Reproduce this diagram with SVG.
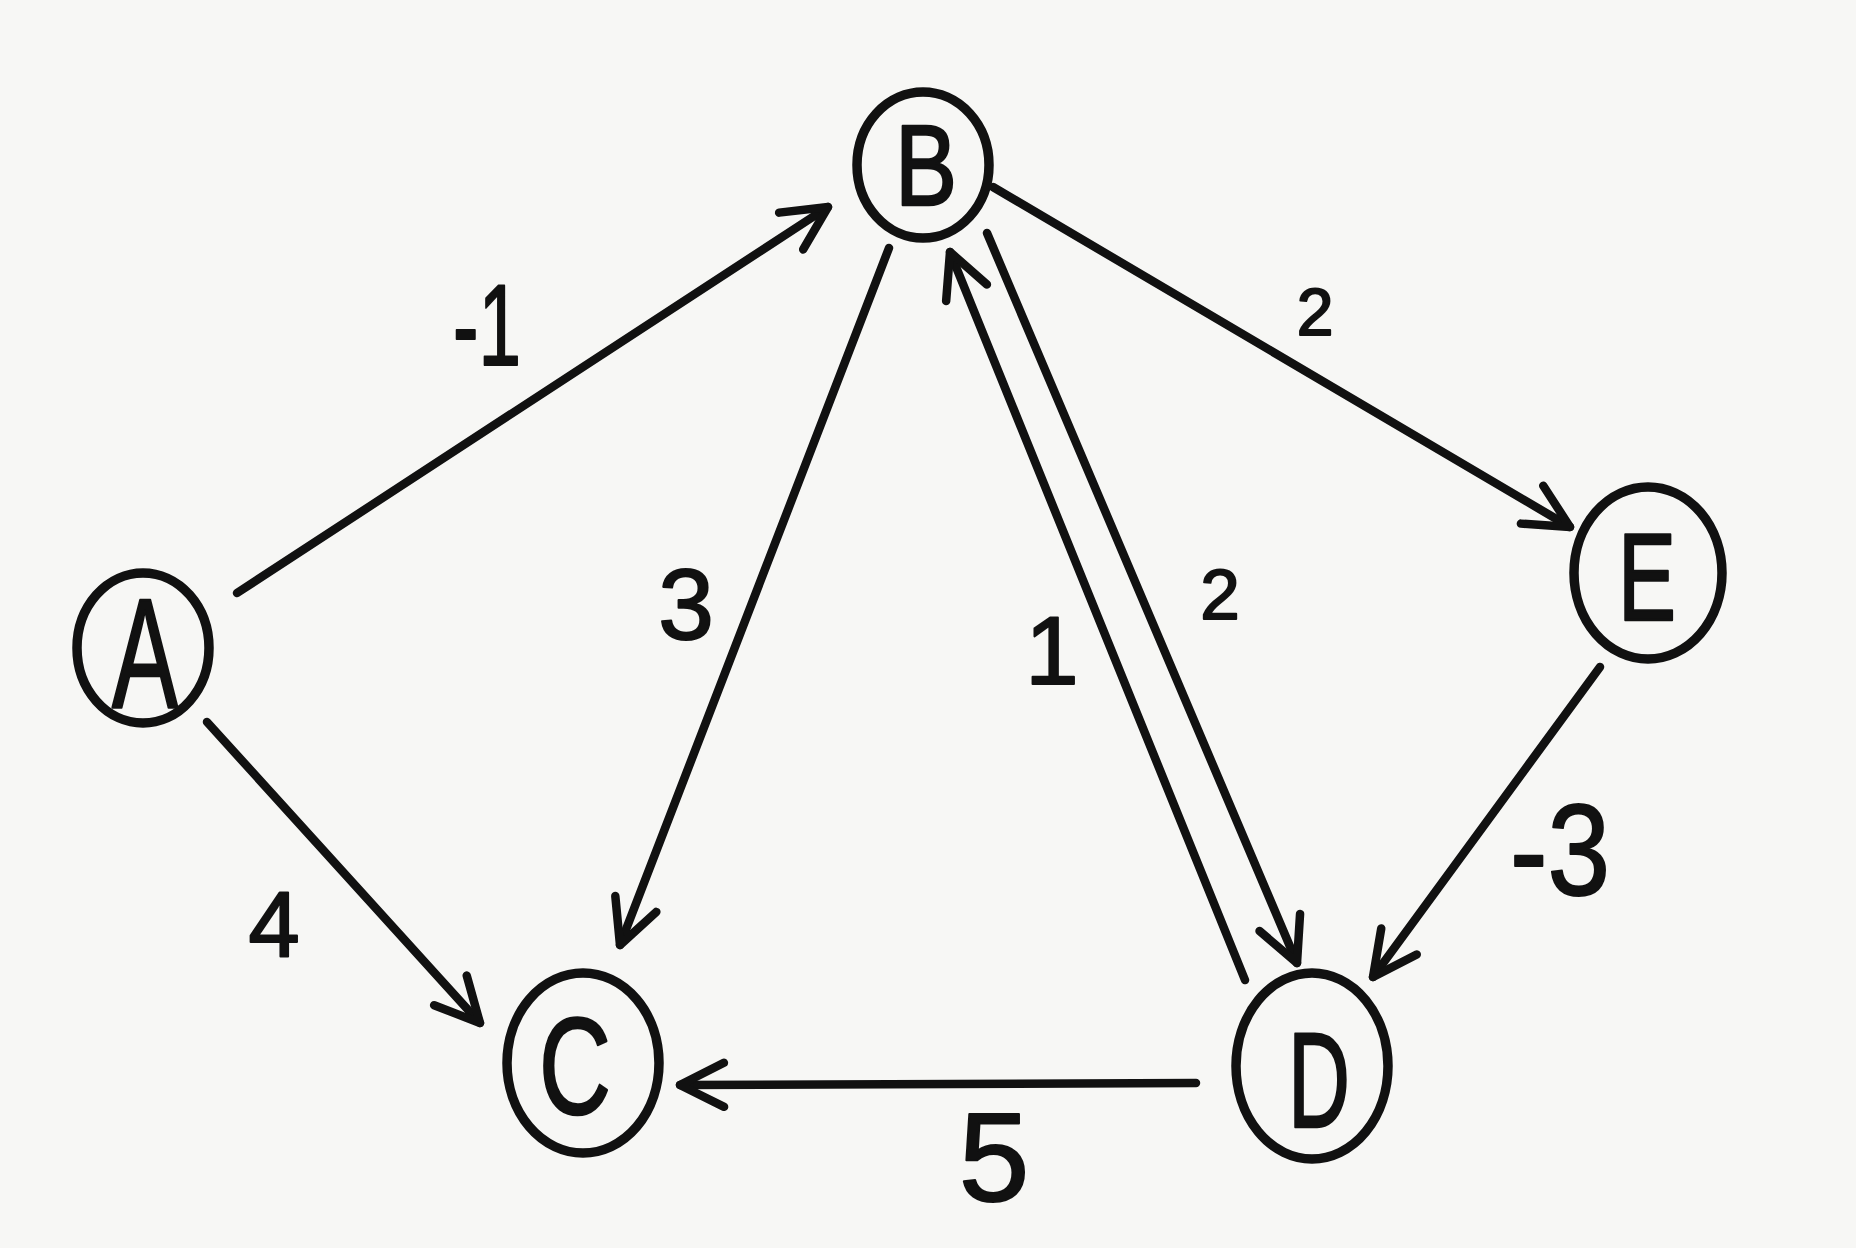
<svg xmlns="http://www.w3.org/2000/svg" width="1856" height="1248" viewBox="0 0 1856 1248">
<style>
.node ellipse{fill:none;stroke:#111;stroke-width:9.5}
.node text{font-family:"Liberation Sans",Arial,sans-serif;fill:#111;stroke:#111;stroke-width:2.5;stroke-linejoin:round;text-anchor:middle}
.edge{stroke:#111;stroke-width:8.5;stroke-linecap:round;fill:none;marker-end:url(#arr)}
.lbl{font-family:"Liberation Sans",Arial,sans-serif;fill:#111;stroke:#111;stroke-width:2;stroke-linejoin:round;text-anchor:middle}
</style>
<defs>
<marker id="arr" markerUnits="userSpaceOnUse" orient="auto" refX="0" refY="0" markerWidth="60" markerHeight="60" overflow="visible">
<path d="M -44 -22 L 0 0 L -44 22" fill="none" stroke="#111" stroke-width="8.5" stroke-linecap="round" stroke-linejoin="round"/>
</marker>
</defs>
<rect width="1856" height="1248" fill="#f7f7f5"/>
<g id="connectors">
<line class="edge" x1="237" y1="593" x2="828" y2="207"/>
<line class="edge" x1="207" y1="722" x2="480" y2="1023"/>
<line class="edge" x1="889" y1="248" x2="620" y2="945"/>
<line class="edge" x1="987" y1="233" x2="1297" y2="963"/>
<line class="edge" x1="1245" y1="980" x2="950" y2="252"/>
<line class="edge" x1="993" y1="187" x2="1570" y2="527"/>
<line class="edge" x1="1600" y1="667" x2="1373" y2="977"/>
<line class="edge" x1="1196" y1="1083" x2="680" y2="1085"/>
<text class="lbl" x="487" y="365" font-size="115" textLength="68" lengthAdjust="spacingAndGlyphs">-1</text>
<text class="lbl" x="274" y="956" font-size="92">4</text>
<text class="lbl" x="686" y="639" font-size="100">3</text>
<text class="lbl" x="1315" y="335" font-size="66">2</text>
<text class="lbl" x="1220" y="619" font-size="71">2</text>
<text class="lbl" x="1052" y="684" font-size="96">1</text>
<text class="lbl" x="1560" y="895" font-size="130" textLength="100" lengthAdjust="spacingAndGlyphs">-3</text>
<text class="lbl" x="994" y="1201" font-size="127">5</text>
</g>
<g id="node-A" class="node">
<ellipse cx="143" cy="648" rx="66" ry="75"/>
<text x="145" y="707" font-size="156" textLength="66" lengthAdjust="spacingAndGlyphs">A</text>
</g>
<g id="node-B" class="node">
<ellipse cx="923" cy="165" rx="66" ry="73"/>
<text x="926" y="205" font-size="115" textLength="62" lengthAdjust="spacingAndGlyphs">B</text>
</g>
<g id="node-C" class="node">
<ellipse cx="583" cy="1063" rx="76" ry="90"/>
<text x="575" y="1114" font-size="137" textLength="72" lengthAdjust="spacingAndGlyphs">C</text>
</g>
<g id="node-D" class="node">
<ellipse cx="1312" cy="1066" rx="76" ry="93"/>
<text x="1319" y="1127" font-size="135" textLength="62" lengthAdjust="spacingAndGlyphs">D</text>
</g>
<g id="node-E" class="node">
<ellipse cx="1648" cy="573" rx="74" ry="86"/>
<text x="1647" y="620" font-size="125" textLength="58" lengthAdjust="spacingAndGlyphs">E</text>
</g>
</svg>
